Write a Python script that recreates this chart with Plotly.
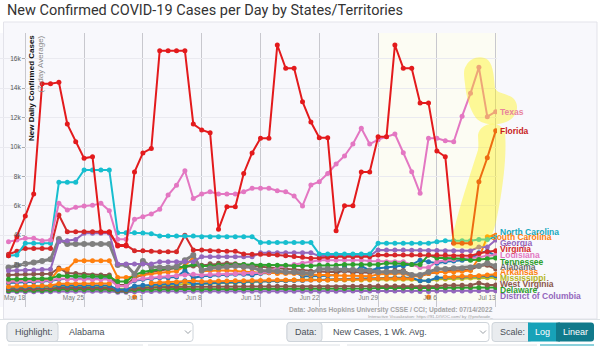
import re
import pandas as pd
import plotly.graph_objects as go

W, H = 600, 346

# ---------------------------------------------------------------- data
# New cases per day, 1-week average, in thousands (May 16 .. Jul 13, 2022)
dates = pd.date_range("2022-05-16", periods=59, freq="D")

florida = [2.6, 3.9, 5.3, 6.8, 14.3, 14.3, 14.4, 11.56, 10.36, 9.23, 9.34,
           4.2, 4.2, 3.27, 3.27, 8.3, 9.6, 9.9,
           16.55, 16.55, 16.55, 16.55, 11.56, 11.16, 10.97,
           4.4, 5.94, 5.94, 8.2, 9.6, 10.6, 10.6,
           16.94, 15.35, 15.35, 13.08, 11.7, 10.63, 10.63,
           4.3, 6.0, 6.0, 8.3, 8.3, 10.7, 10.7,
           16.94, 15.35, 15.35, 13.0, 13.0, 9.73, 9.34,
           3.45, 3.45, 3.45, 7.64, 9.27, 11.1]
texas = [3.56, 3.67, 3.79, 3.79, 3.63, 3.67, 6.17,
         5.71, 5.9, 5.99, 6.03, 6.17, 5.67, 3.72,
         3.72, 5.08, 5.26, 5.45, 5.76, 6.73, 7.4,
         8.39, 6.5, 6.8, 6.96, 6.8, 6.8, 6.8,
         6.96, 7.19, 7.19, 7.19, 7.03, 6.96, 6.67,
         5.99, 7.41, 7.64, 8.2, 8.84, 9.39, 10.2,
         11.27, 10.2, 10.5, 10.7, 10.88, 9.61, 8.32,
         6.85, 10.59, 10.59, 10.43, 10.36, 12.1, 13.65,
         15.42, 12.06, 12.4]
north_carolina = [2.6, 2.65, 3.45, 3.45, 3.45, 3.45, 7.6,
                  7.6, 7.6, 8.44, 8.44, 8.44, 8.44, 4.17,
                  4.17, 4.17, 4.15, 4.1, 3.95, 3.95, 3.95,
                  3.95, 3.95, 3.9, 3.9, 3.9, 3.9, 3.9,
                  3.9, 3.9, 3.5, 3.5, 3.5, 3.5, 3.5,
                  3.5, 3.5, 2.72, 2.72, 2.72, 2.72, 2.72,
                  2.72, 2.72, 3.45, 3.45, 3.45, 3.45, 3.45,
                  3.45, 3.45, 3.56, 3.63, 3.63, 3.63, 3.63,
                  3.7, 3.7, 3.9]
virginia = [2.7, 2.9, 3.1, 3.1, 3.1, 3.1, 5.37,
            4.24, 4.24, 4.24, 4.24, 4.24, 4.24, 3.33,
            3.33, 2.95, 2.95, 2.9, 2.88, 2.88, 2.88,
            4.0, 3.0, 3.0, 2.95, 2.92, 2.9, 2.9,
            2.72, 2.7, 2.7, 2.68, 2.65, 2.6, 2.55,
            2.5, 2.43, 2.45, 2.5, 2.54, 2.54, 2.54,
            2.54, 2.54, 2.65, 2.65, 2.65, 2.65, 2.65,
            2.65, 2.65, 2.65, 2.65, 2.6, 2.6, 2.6,
            2.75, 2.88, 2.95]
georgia = [1.58, 1.6, 1.62, 1.64, 1.66, 1.68, 3.56,
           3.63, 3.7, 4.13, 4.13, 4.13, 4.13, 2.04,
           2.04, 2.04, 2.04, 2.04, 2.2, 2.2, 2.2,
           2.2, 2.2, 2.54, 2.54, 2.54, 2.54, 2.54,
           2.54, 2.54, 2.8, 2.8, 2.8, 2.8, 2.8,
           2.8, 2.8, 2.58, 2.58, 2.58, 2.58, 2.58,
           2.58, 2.58, 3.0, 3.0, 3.0, 3.0, 2.98,
           2.98, 2.96, 2.96, 2.95, 2.95, 2.95, 2.95,
           3.2, 3.2, 3.67]
alabama = [1.8, 1.95, 2.05, 2.15, 2.25, 2.36, 3.74,
           3.4, 3.4, 3.4, 3.4, 3.4, 3.4, 1.97,
           1.97, 1.35, 2.25, 1.86, 1.8, 1.8, 1.85,
           2.3, 2.65, 1.6, 1.75, 1.8, 1.85, 1.9,
           1.85, 1.8, 1.6, 1.6, 1.55, 1.5, 1.5,
           1.45, 1.4, 1.7, 1.7, 1.7, 1.65, 1.65,
           1.6, 1.6, 1.5, 1.5, 1.5, 1.5, 1.3,
           1.3, 1.5, 1.7, 1.7, 1.75, 1.75, 1.8,
           1.9, 2.1, 1.9]
south_carolina = [0.85, 0.88, 0.9, 0.92, 0.95, 0.98, 1.68,
                  1.68, 2.27, 2.27, 2.27, 2.27, 2.27, 1.13,
                  1.13, 1.2, 1.3, 1.4, 1.45, 1.5, 1.55,
                  1.9, 2.5, 1.55, 1.6, 1.6, 1.6, 1.55,
                  1.55, 1.5, 1.45, 1.45, 1.4, 1.4, 1.4,
                  1.35, 1.3, 1.3, 1.3, 1.25, 1.25, 1.25,
                  1.2, 1.2, 1.35, 1.35, 1.4, 1.4, 1.2,
                  1.2, 1.4, 1.5, 1.5, 1.5, 1.55, 1.6,
                  2.45, 3.9, 4.0]
arkansas = [0.5, 0.52, 0.55, 0.55, 0.56, 0.58, 0.7,
            0.7, 0.7, 0.72, 0.72, 0.72, 0.72, None,
            None, -0.2, None, 0.75, 0.78, 0.8, 0.82,
            0.85, 0.9, 0.85, 0.85, 0.88, 0.88, 0.9,
            0.9, 0.92, 0.92, 0.95, 0.95, 0.95, 0.95,
            0.95, 0.95, 0.95, 0.95, 0.98, 0.98, 1.0,
            1.0, 1.0, 1.05, 1.05, 1.05, 1.05, 1.05,
            None, -0.2, None, 1.15, 1.15, 1.2, 1.2,
            1.25, 1.3, 1.35]
louisiana = [0.85, 0.86, 0.88, 0.9, 0.9, 0.92, 1.05,
             1.0, 1.0, 1.0, 0.98, 0.98, 0.98, 0.55,
             0.55, 0.95, 1.05, 1.1, 1.15, 1.2, 1.25,
             1.3, 1.35, 1.3, 1.32, 1.35, 1.35, 1.38,
             1.4, 1.42, 1.45, 1.5, 1.8, 1.9, 2.0,
             2.1, 2.2, 2.3, 2.3, 2.3, 2.32, 2.3,
             2.3, 2.25, 2.25, 2.2, 2.2, 2.2, 2.0,
             1.8, 1.8, 2.2, 2.3, 2.35, 2.4, 2.45,
             2.5, 2.6, 2.65]
tennessee = [1.0, 1.0, 1.02, 1.03, 1.04, 1.05, 1.25,
             1.2, 1.2, 1.2, 1.2, 1.18, 1.18, 0.85,
             0.85, 1.3, 1.5, 1.6, 1.7, 1.75, 1.8,
             1.85, 2.0, 1.9, 1.9, 1.95, 1.95, 2.0,
             2.0, 2.0, 1.95, 1.95, 1.95, 1.95, 1.9,
             1.9, 1.9, 1.95, 1.95, 1.95, 2.0, 2.0,
             2.0, 2.0, 2.0, 2.1, 2.1, 2.05, 2.0,
             2.0, 2.65, 2.45, 2.45, 2.45, 2.4, 2.3,
             2.35, 2.4, 2.45]
kentucky = [0.75, 0.78, 0.8, 0.82, 0.85, 0.88, 1.0,
            1.05, 1.05, 1.05, 1.05, 1.05, 1.05, 0.6,
            0.6, 0.9, 1.0, 1.05, 1.1, 1.1, 1.15,
            1.6, 1.1, 1.2, 1.25, 1.3, 1.3, 1.35,
            1.35, 1.3, 1.4, 1.45, 1.45, 1.5, 1.5,
            1.2, 1.2, 1.2, 1.25, 1.3, 1.85, 1.4,
            1.9, 1.6, 1.75, 1.8, 1.85, 1.9, 2.0,
            2.3, 2.2, 2.1, 2.2, 2.25, 2.3, 2.35,
            2.8, 2.9, 2.6]
oklahoma = [0.45, 0.46, 0.48, 0.5, 0.5, 0.52, 0.6,
            0.58, 0.58, 0.58, 0.58, 0.58, 0.58, 0.3,
            0.3, 0.55, 0.6, 0.62, 0.65, 0.68, 0.7,
            0.9, 0.7, 0.72, 0.75, 0.78, 0.8, 0.8,
            0.82, 0.85, 0.85, 0.88, 0.9, 0.9, 0.92,
            0.92, 0.95, 0.95, 0.98, 1.0, 1.0, 1.02,
            1.05, 1.05, 1.05, 1.08, 1.1, 1.1, 1.1,
            0.9, 0.9, 1.1, 1.12, 1.15, 1.15, 1.2,
            1.2, 1.25, 1.25]
maryland = [1.3, 1.32, 1.34, 1.36, 1.36, 1.38, 1.77,
            1.43, 1.4, 1.35, 1.3, 1.29, 1.29, 0.61,
            0.61, 1.1, 1.3, 1.5, 1.6, 1.7, 1.75,
            1.85, 1.9, 1.95, 2.05, 2.1, 2.1, 2.05,
            2.0, 1.95, 1.85, 1.8, 1.75, 1.7, 1.65,
            1.6, 1.55, 1.5, 1.5, 1.5, 1.55, 1.5,
            1.45, 1.45, 1.5, 1.55, 1.6, 1.6, 1.3,
            1.2, 1.4, 1.5, 1.55, 1.6, 1.6, 1.65,
            1.9, 1.95, 1.7]
west_virginia = [0.32, 0.32, 0.33, 0.34, 0.34, 0.35, 0.42,
                 0.4, 0.4, 0.4, 0.4, 0.4, 0.4, 0.22,
                 0.22, 0.38, 0.42, 0.45, 0.46, 0.48, 0.5,
                 0.52, 0.5, 0.5, 0.5, 0.5, 0.5, 0.5,
                 0.52, 0.52, 0.52, 0.52, 0.52, 0.52, 0.52,
                 0.5, 0.5, 0.5, 0.5, 0.5, 0.5, 0.52,
                 0.52, 0.52, 0.55, 0.55, 0.55, 0.55, 0.55,
                 0.5, 0.5, 0.55, 0.58, 0.6, 0.6, 0.6,
                 0.75, 0.62, 0.62]
mississippi = [0.35, 0.36, 0.37, 0.38, 0.38, 0.4, 0.5,
               0.48, 0.48, 0.48, 0.48, 0.48, 0.48, 0.35,
               0.35, 0.45, 0.5, 0.52, 0.55, 0.58, 0.6,
               0.7, 0.65, 0.68, 0.7, 0.72, 0.75, 0.75,
               0.78, 0.8, 0.85, 0.88, 0.9, 0.92, 0.95,
               0.98, 0.98, 0.95, 0.95, 0.95, 0.95, 0.95,
               0.95, 0.95, 1.0, 1.0, 1.0, 1.0, 1.0,
               0.9, 0.9, 1.0, 1.02, 1.05, 1.05, 1.08,
               1.1, 1.1, 1.1]
delaware = [0.22, 0.22, 0.23, 0.24, 0.24, 0.25, 0.3,
            0.3, 0.3, 0.3, 0.3, 0.3, 0.3, 0.18,
            0.18, 0.28, 0.3, 0.3, 0.32, 0.32, 0.33,
            0.35, 0.33, 0.33, 0.34, 0.35, 0.35, 0.35,
            0.36, 0.36, 0.37, 0.37, 0.38, 0.38, 0.38,
            0.38, 0.38, 0.38, 0.38, 0.38, 0.38, 0.38,
            0.38, 0.38, 0.4, 0.4, 0.4, 0.4, 0.4,
            0.35, 0.35, 0.4, 0.42, 0.42, 0.43, 0.44,
            0.45, 0.45, 0.45]
district_of_columbia = [0.15, 0.15, 0.15, 0.16, 0.16, 0.16, 0.18,
                        0.18, 0.18, 0.18, 0.18, 0.18, 0.18, 0.12,
                        0.12, 0.16, 0.17, 0.17, 0.18, 0.18, 0.18,
                        0.19, 0.18, 0.18, 0.18, 0.18, 0.18, 0.18,
                        0.18, 0.18, 0.19, 0.19, 0.19, 0.19, 0.19,
                        0.19, 0.19, 0.19, 0.19, 0.19, 0.2, 0.2,
                        0.2, 0.2, 0.2, 0.2, 0.2, 0.2, 0.2,
                        0.17, 0.17, 0.2, 0.2, 0.21, 0.21, 0.21,
                        0.22, 0.22, 0.22]

tick_dates = pd.date_range("2022-05-18", periods=9, freq="7D")
tick_labels = ["May 18", "May 25", "Jun 1", "Jun 8", "Jun 15",
               "Jun 22", "Jun 29", "Jul 6", "Jul 13"]
y_ticks = [0, 2, 4, 6, 8, 10, 12, 14, 16]
y_tick_labels = ["0", "2k", "4k", "6k", "8k", "10k", "12k", "14k", "16k"]

# (name, values, colour, line width) in drawing order, back to front
series = [
    ("District of Columbia", district_of_columbia, "#9467bd", 2),
    ("Delaware", delaware, "#2ca02c", 2),
    ("Mississippi", mississippi, "#bcbd22", 2),
    ("West Virginia", west_virginia, "#8c564b", 2),
    ("Oklahoma", oklahoma, "#1f77b4", 2),
    ("Kentucky", kentucky, "#1f77b4", 2),
    ("Maryland", maryland, "#8c564b", 2),
    ("Arkansas", arkansas, "#ff7f0e", 2),
    ("South Carolina", south_carolina, "#ff7f0e", 2),
    ("Louisiana", louisiana, "#e377c2", 2),
    ("Tennessee", tennessee, "#2ca02c", 2),
    ("Alabama", alabama, "#7f7f7f", 3),
    ("Georgia", georgia, "#9467bd", 2),
    ("Virginia", virginia, "#d62728", 2),
    ("North Carolina", north_carolina, "#17becf", 2),
    ("Texas", texas, "#e377c2", 2),
    ("Florida", florida, "#e31a1c", 2),
]

# end-of-line labels for the crowded group (stacked to the right of the plot)
stacked_labels = [
    ("North Carolina", "#17a9be", 231.7, 498),
    ("South Carolina", "#ff7f0e", 236.7, 489),
    ("Georgia", "#9467bd", 243.3, 498),
    ("Virginia", "#d62728", 249.3, 498),
    ("Louisiana", "#e377c2", 255.0, 498),
    ("Tennessee", "#2ca02c", 261.7, 498),
    ("Alabama", "#6b6b6b", 267.3, 498),
    ("Arkansas", "#ff7f0e", 272.3, 498),
    ("Mississippi", "#b5b61f", 278.3, 498),
    ("West Virginia", "#8c564b", 284.0, 498),
    ("Delaware", "#2ca02c", 290.0, 498),
    ("District of Columbia", "#9467bd", 296.0, 498),
]


# ---------------------------------------------------------------- helpers
def px(x):
    return x / W


def py(y):
    return 1 - y / H


def to_paper(path):
    """Convert an SVG path written in pixel pairs 'x,y' to paper units."""
    def repl(m):
        return f"{float(m.group(1)) / W:.5f},{1 - float(m.group(2)) / H:.5f}"
    return re.sub(r"(-?\d+\.?\d*),(-?\d+\.?\d*)", repl, path)


def rrect(x0, y0, x1, y1, r):
    return to_paper(
        f"M {x0 + r},{y0} L {x1 - r},{y0} Q {x1},{y0} {x1},{y0 + r} "
        f"L {x1},{y1 - r} Q {x1},{y1} {x1 - r},{y1} L {x0 + r},{y1} "
        f"Q {x0},{y1} {x0},{y1 - r} L {x0},{y0 + r} Q {x0},{y0} {x0 + r},{y0} Z")


FONT = "Liberation Sans"
PLOT_TOP, PLOT_BOTTOM = 33, 307

# ---------------------------------------------------------------- figure
fig = go.Figure()
for name, vals, color, width in series:
    fig.add_trace(go.Scatter(
        x=dates, y=vals, name=name, mode="lines+markers",
        line=dict(color=color, width=width),
        marker=dict(color=color, size=5 if width == 2 else 6),
        connectgaps=False, showlegend=False, hoverinfo="skip"))

shapes = []
# chart card
shapes.append(dict(type="rect", xref="paper", yref="paper",
                   x0=px(3.5), x1=px(597), y0=py(319), y1=py(22),
                   fillcolor="#f8f8fc", line=dict(color="#e3e3ea", width=1),
                   layer="below"))
# tinted last two weeks
shapes.append(dict(type="rect", xref="x", yref="paper",
                   x0="2022-06-29", x1="2022-07-13 03:43",
                   y0=py(301), y1=py(PLOT_TOP), fillcolor="#fcfcf3",
                   line=dict(width=0), layer="below"))
# highlighter strokes over Texas and Florida
texas_mark = ("M 466,66 C 470,57 482,55 488,60 C 494,66 494,80 495,88 "
              "C 497,94 508,93 514,99 C 520,106 517,118 506,122 "
              "C 496,126 482,125 476,118 C 470,110 466,96 465,84 "
              "C 464,76 463,70 466,66 Z")
florida_mark = ("M 478,135 C 480,122 501,119 505,133 C 507,155 503,190 496,222 "
                "C 492,238 487,248 478,249 L 456,248 C 450,247 451,238 454,230 "
                "C 460,205 470,175 478,150 C 479,145 478,140 478,135 Z")
for p in (texas_mark, florida_mark):
    shapes.append(dict(type="path", xref="paper", yref="paper", path=to_paper(p),
                       fillcolor="#fff200", opacity=0.38, line=dict(width=0),
                       layer="above"))

# separator under the chart card and the control bar
shapes.append(dict(type="line", xref="paper", yref="paper",
                   x0=0, x1=1, y0=py(319.5), y1=py(319.5),
                   line=dict(color="#dee2e6", width=1)))


def control(x0, x1, xl, label, value, chevron_x):
    shapes.append(dict(type="path", xref="paper", yref="paper",
                       path=rrect(x0, 322.5, x1, 341.5, 3),
                       fillcolor="white", line=dict(color="#ced4da", width=1)))
    shapes.append(dict(type="path", xref="paper", yref="paper",
                       path=rrect(x0, 322.5, xl, 341.5, 3),
                       fillcolor="#e9ecef", line=dict(color="#ced4da", width=1)))
    shapes.append(dict(type="path", xref="paper", yref="paper",
                       path=to_paper(f"M {chevron_x - 3},330.5 L {chevron_x},333.5 "
                                     f"L {chevron_x + 3},330.5"),
                       line=dict(color="#9aa0a6", width=1)))
    return [
        dict(text=label, x=px(x0 + 6), y=py(332), xanchor="left", yanchor="middle"),
        dict(text=value, x=px(xl + 9), y=py(332), xanchor="left", yanchor="middle"),
    ]


ctrl_text = []
ctrl_text += control(7, 193, 58, "Highlight:", "Alabama", 188)
ctrl_text += control(287, 489, 322, "Data:", "New Cases, 1 Wk. Avg.", 483)
# scale toggle
shapes.append(dict(type="path", xref="paper", yref="paper",
                   path=rrect(492, 322.5, 532, 341.5, 3),
                   fillcolor="#e9ecef", line=dict(color="#ced4da", width=1)))
shapes.append(dict(type="rect", xref="paper", yref="paper",
                   x0=px(528), x1=px(556), y0=py(341.5), y1=py(322.5),
                   fillcolor="#17a2b8", line=dict(width=0)))
shapes.append(dict(type="path", xref="paper", yref="paper",
                   path=rrect(556, 322.5, 594, 341.5, 3),
                   fillcolor="#117a8b", line=dict(width=0)))
shapes.append(dict(type="rect", xref="paper", yref="paper",
                   x0=px(556), x1=px(560), y0=py(341.5), y1=py(322.5),
                   fillcolor="#117a8b", line=dict(width=0)))
ctrl_text.append(dict(text="Scale:", x=px(498), y=py(332), xanchor="left", yanchor="middle"))
# next row of controls peeking in at the bottom edge
for a, b, c in ((8, 143, "#dee2e6"), (148, 340, "#dee2e6"),
                (347, 537, "#dee2e6"), (540, 594, "#17a2b8")):
    shapes.append(dict(type="line", xref="paper", yref="paper",
                       x0=px(a), x1=px(b), y0=py(345), y1=py(345),
                       line=dict(color=c, width=1)))

annotations = []
# title
annotations.append(dict(
    text="New Confirmed COVID-19 Cases per Day by States/Territories",
    x=px(5), y=py(11), xanchor="left", yanchor="middle", showarrow=False,
    xref="paper", yref="paper",
    font=dict(family="Roboto", size=14.5, color="#333333")))
# y-axis title
annotations.append(dict(
    text="New Daily Confirmed Cases", x=px(31.5), y=py(33.5), textangle=-90,
    xanchor="center", yanchor="top", showarrow=False, xref="paper", yref="paper",
    font=dict(family=FONT, size=8, color="#111111", weight="bold")))
annotations.append(dict(
    text="(7-day Average)", x=px(39.5), y=py(33.5), textangle=-90,
    xanchor="center", yanchor="top", showarrow=False, xref="paper", yref="paper",
    font=dict(family=FONT, size=8, color="#8a8a8a")))
# end labels for the two leading states, placed at their final values
for name, vals, color in (("Texas", texas, "#e8849c"), ("Florida", florida, "#c81e1e")):
    annotations.append(dict(
        text=name, x=dates[-1], y=vals[-1], xref="x", yref="y",
        xanchor="left", yanchor="middle", xshift=2.5, showarrow=False,
        font=dict(family=FONT, size=8.5, color=color, weight="bold")))
for name, color, ypix, xpix in stacked_labels:
    annotations.append(dict(
        text=name, x=px(xpix), y=py(ypix), xref="paper", yref="paper",
        xanchor="left", yanchor="middle", showarrow=False,
        font=dict(family=FONT, size=8.5, color=color, weight="bold")))
# source credits
annotations.append(dict(
    text="Data: Johns Hopkins University CSSE / CCI; Updated: 07/14/2022",
    x=px(495), y=py(309.5), xanchor="right", yanchor="middle", showarrow=False,
    xref="paper", yref="paper",
    font=dict(family=FONT, size=6.6, color="#a3a3a3", weight="bold")))
annotations.append(dict(
    text="Interactive Visualization: https://91-DIVOC.com/ by @profwade_",
    x=px(495), y=py(316), xanchor="right", yanchor="middle", showarrow=False,
    xref="paper", yref="paper",
    font=dict(family=FONT, size=4.4, color="#9a9a9a")))
# control bar text
for t in ctrl_text:
    annotations.append(dict(showarrow=False, xref="paper", yref="paper",
                            font=dict(family=FONT, size=9, color="#495057"), **t))
annotations.append(dict(text="Log", x=px(542), y=py(332), showarrow=False,
                        xref="paper", yref="paper", xanchor="center", yanchor="middle",
                        font=dict(family=FONT, size=9, color="white")))
annotations.append(dict(text="Linear", x=px(575), y=py(332), showarrow=False,
                        xref="paper", yref="paper", xanchor="center", yanchor="middle",
                        font=dict(family=FONT, size=9, color="white")))

# 0 sits at y=294 px and 16k at y=58.8 px (14.7 px per thousand)
y_lo = -(PLOT_BOTTOM - 294) / 14.7
y_hi = (294 - PLOT_TOP) / 14.7

fig.update_layout(
    width=W, height=H, margin=dict(l=0, r=0, t=0, b=0),
    paper_bgcolor="white", plot_bgcolor="#f8f8fc",
    font=dict(family=FONT),
    # one day spans 8.4 px; May 16 sits at x=8.5 px, Jul 13 at x=495.7 px
    xaxis=dict(domain=[0, px(497)],
               range=["2022-05-14 23:43", "2022-07-13 03:43"],
               tickvals=tick_dates, ticktext=tick_labels,
               ticklabelposition="inside left", ticks="",
               tickfont=dict(family=FONT, size=6.5, color="#7a7a7a"),
               showgrid=True, gridcolor="#c8c8ce", gridwidth=1,
               zeroline=False, showline=False, fixedrange=True),
    yaxis=dict(domain=[py(PLOT_BOTTOM), py(PLOT_TOP)], range=[y_lo, y_hi],
               anchor="free", position=px(25), side="left",
               tickvals=y_ticks, ticktext=y_tick_labels,
               ticks="outside", ticklen=3, tickcolor="#aaaaaa",
               tickfont=dict(family=FONT, size=6.5, color="#555555"),
               showgrid=True, gridcolor="#eaeaf0", gridwidth=1,
               zeroline=False, showline=False, fixedrange=True),
    shapes=shapes, annotations=annotations,
)

fig.write_html("out.html")
